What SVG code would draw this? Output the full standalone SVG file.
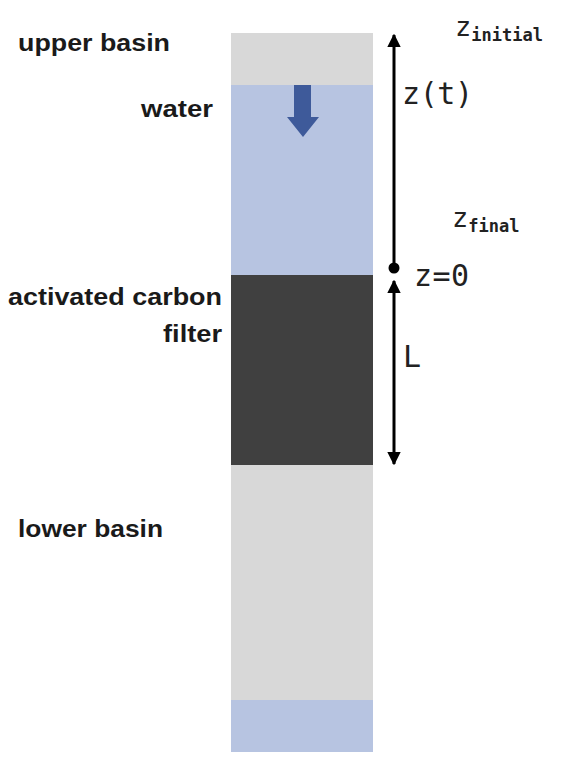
<svg xmlns="http://www.w3.org/2000/svg" width="569" height="758" viewBox="0 0 569 758">
<style>
.lbl{font-family:"Liberation Sans","DejaVu Sans",sans-serif;font-size:23px;fill:#1a1a1a;font-weight:bold}
.mono{font-family:"DejaVu Sans Mono","Liberation Mono",monospace;fill:#222}
.big{font-size:30px}
.zs{font-size:27px}
.sub{font-size:17px;font-weight:bold}
.ln{stroke:#000;stroke-width:3;fill:none}
</style>
<defs>
<marker id="ah" viewBox="0 0 10 10" refX="9" refY="5" markerWidth="4.5" markerHeight="4.5" orient="auto-start-reverse">
<path d="M0,0 L10,5 L0,10 z" fill="#000"/>
</marker>
</defs>
<rect width="569" height="758" fill="#fff"/>
<g id="upper-basin">
<rect x="231" y="33" width="142" height="52" fill="#d8d8d8"/>
<text class="lbl" x="18" y="51" textLength="152" lengthAdjust="spacingAndGlyphs">upper basin</text>
</g>
<g id="water">
<rect x="231" y="85" width="142" height="190" fill="#b7c4e1"/>
<path d="M294,85 H311 V117 H319 L303,137 L287,117 H294 Z" fill="#3e5a9a"/>
<text class="lbl" x="141" y="117" textLength="72" lengthAdjust="spacingAndGlyphs">water</text>
</g>
<g id="filter">
<rect x="231" y="275" width="142" height="190" fill="#404040"/>
<text class="lbl" x="8" y="305" textLength="214" lengthAdjust="spacingAndGlyphs">activated carbon</text>
<text class="lbl" x="163" y="342" textLength="59" lengthAdjust="spacingAndGlyphs">filter</text>
</g>
<g id="lower-basin">
<rect x="231" y="465" width="142" height="235" fill="#d8d8d8"/>
<rect x="231" y="700" width="142" height="52" fill="#b7c4e1"/>
<text class="lbl" x="18" y="537" textLength="145" lengthAdjust="spacingAndGlyphs">lower basin</text>
</g>
<g id="connectors">
<line class="ln" x1="394" y1="268" x2="394" y2="35" marker-end="url(#ah)"/>
<circle cx="394" cy="268" r="5.5" fill="#000"/>
<line class="ln" x1="394" y1="281" x2="394" y2="464" marker-start="url(#ah)" marker-end="url(#ah)"/>
</g>
<g id="labels">
<text class="mono" x="455" y="36"><tspan class="zs">z</tspan><tspan class="sub" dy="5">initial</tspan></text>
<text class="mono big" x="402" y="104" textLength="71">z(t)</text>
<text class="mono" x="452" y="227"><tspan class="zs">z</tspan><tspan class="sub" dy="5">final</tspan></text>
<text class="mono big" x="414" y="286" textLength="55">z=0</text>
<text class="mono big" x="403" y="367">L</text>
</g>
</svg>
